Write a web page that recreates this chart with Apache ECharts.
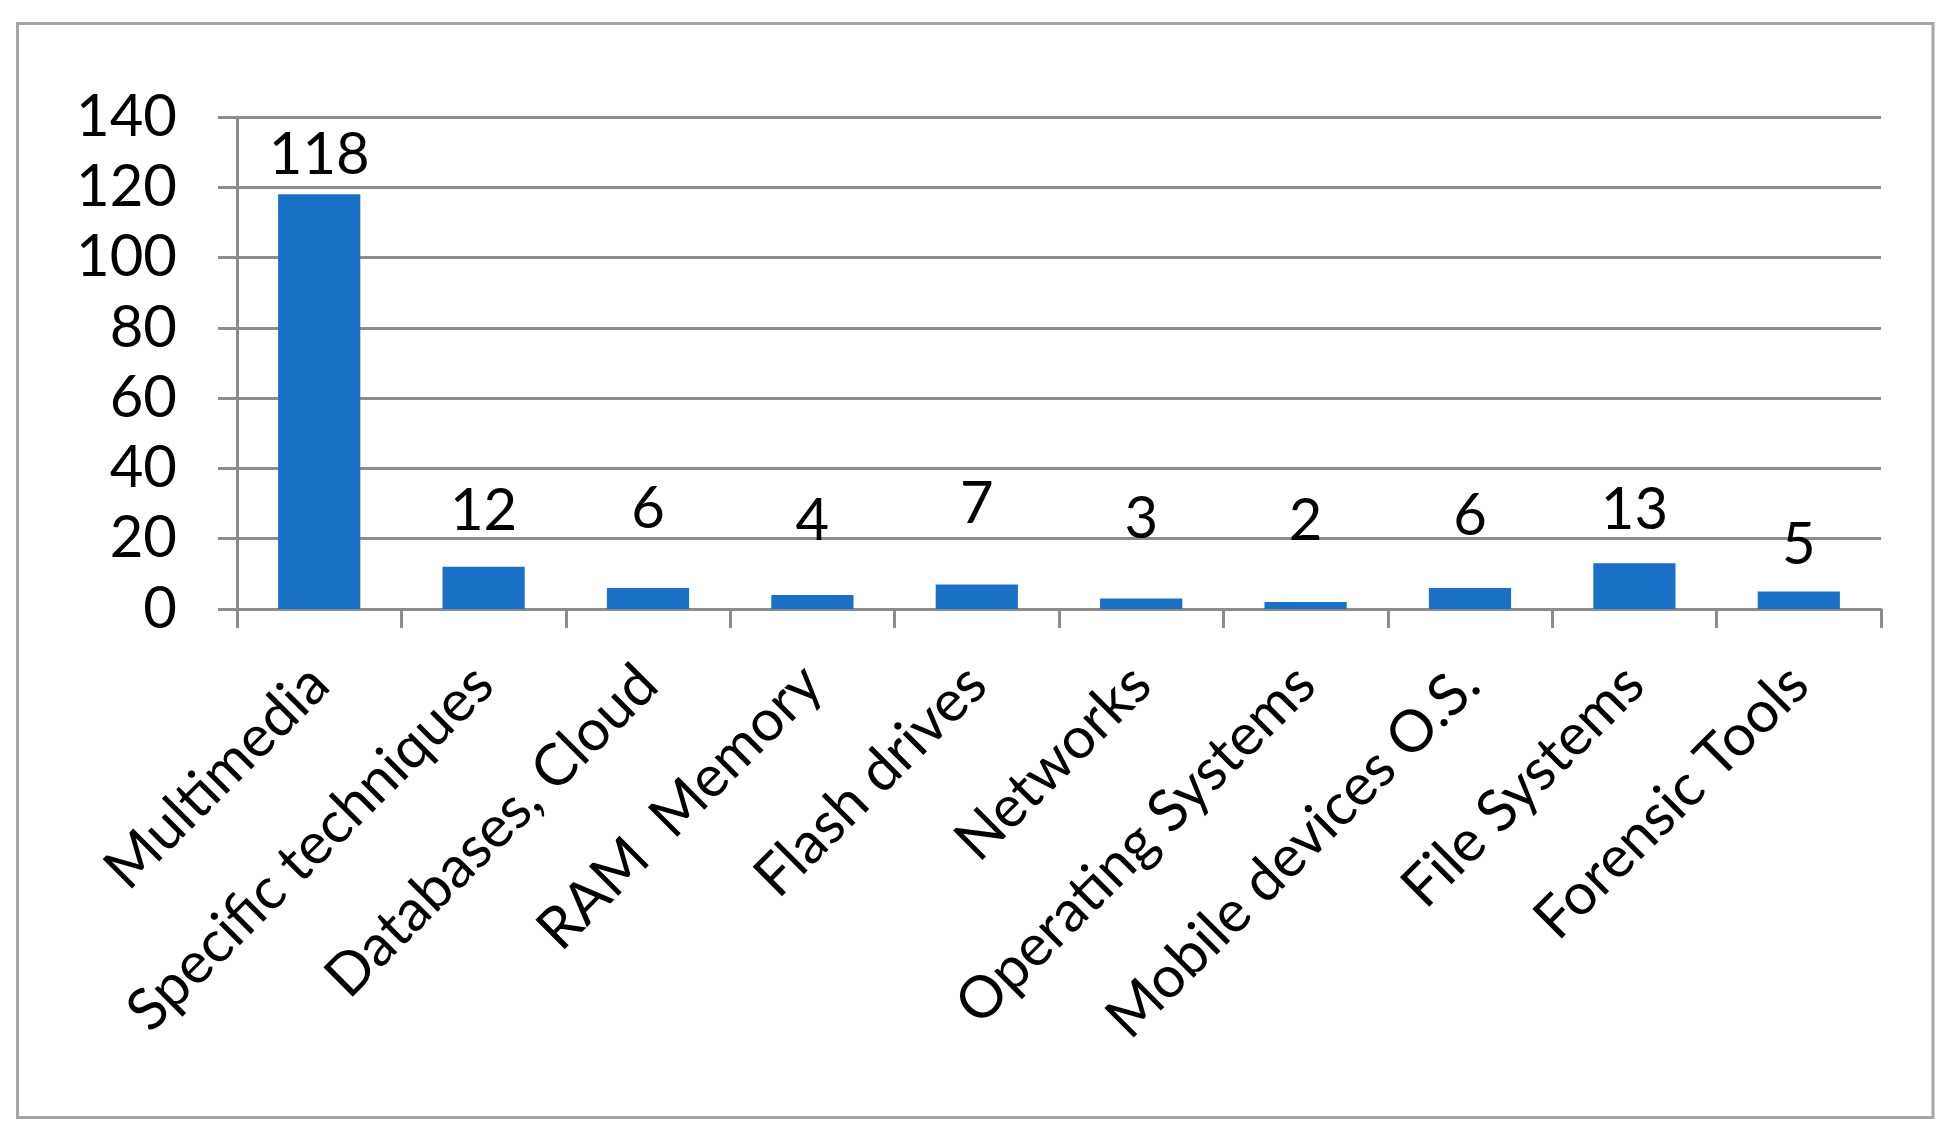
<!DOCTYPE html>
<html>
<head>
<meta charset="utf-8">
<script src="https://cdn.jsdelivr.net/npm/echarts@6/dist/echarts.min.js"></script>
<style>
html,body{margin:0;padding:0;background:#fff;}
#chart{width:1957px;height:1142px;}
</style>
</head>
<body>
<div id="chart"></div>
<script>
// ---- data ----
const categories = ['Multimedia', 'Specific techniques', 'Databases, Cloud', 'RAM  Memory', 'Flash drives', 'Networks', 'Operating Systems', 'Mobile devices O.S.', 'File Systems', 'Forensic Tools'];
const counts = [118, 12, 6, 4, 7, 3, 2, 6, 13, 5];
const yTicks = [0, 20, 40, 60, 80, 100, 120, 140];

// ---- layout (label gaps above bars, as placed in the reference) ----
const labelGaps = [10, 27, 50, 45, 51, 50, 52, 43, 24, 17];

const FONT = 'Lato';
const GRAY = '#8c8c8c';
const BAR = '#1a70c6';

const chart = echarts.init(document.getElementById('chart'), null, {renderer: 'canvas'});
chart.setOption({
  animation: false,
  backgroundColor: '#ffffff',
  graphic: [{
    type: 'rect',
    shape: {x: 17.5, y: 23.5, width: 1915.5, height: 1094},
    style: {fill: 'none', stroke: '#a6a6a6', lineWidth: 3},
    z: 0
  }],
  grid: {left: 237, right: 76, top: 117, bottom: 533, containLabel: false},
  xAxis: {
    type: 'category',
    data: categories,
    boundaryGap: true,
    axisLine: {show: true, lineStyle: {color: GRAY, width: 3}},
    axisTick: {show: true, length: 19, alignWithLabel: false, lineStyle: {color: GRAY, width: 3}},
    axisLabel: {
      interval: 0,
      rotate: 45,
      margin: 66,
      fontFamily: FONT,
      fontSize: 58,
      color: '#000'
    },
    splitLine: {show: false}
  },
  yAxis: {
    type: 'value',
    min: yTicks[0],
    max: yTicks[yTicks.length - 1],
    interval: yTicks[1] - yTicks[0],
    axisLine: {show: true, lineStyle: {color: GRAY, width: 3}},
    axisTick: {show: true, length: 19, lineStyle: {color: GRAY, width: 3}},
    axisLabel: {
      margin: 60,
      fontFamily: FONT,
      fontSize: 58,
      color: '#000'
    },
    splitLine: {show: true, lineStyle: {color: GRAY, width: 3}}
  },
  series: [{
    type: 'bar',
    data: counts.map((v, i) => ({
      value: v,
      label: {distance: labelGaps[i]}
    })),
    barCategoryGap: '50%',
    itemStyle: {color: BAR},
    label: {
      show: true,
      position: 'top',
      fontFamily: FONT,
      fontSize: 58,
      color: '#000'
    },
    z: 3
  }]
});
</script>
</body>
</html>
